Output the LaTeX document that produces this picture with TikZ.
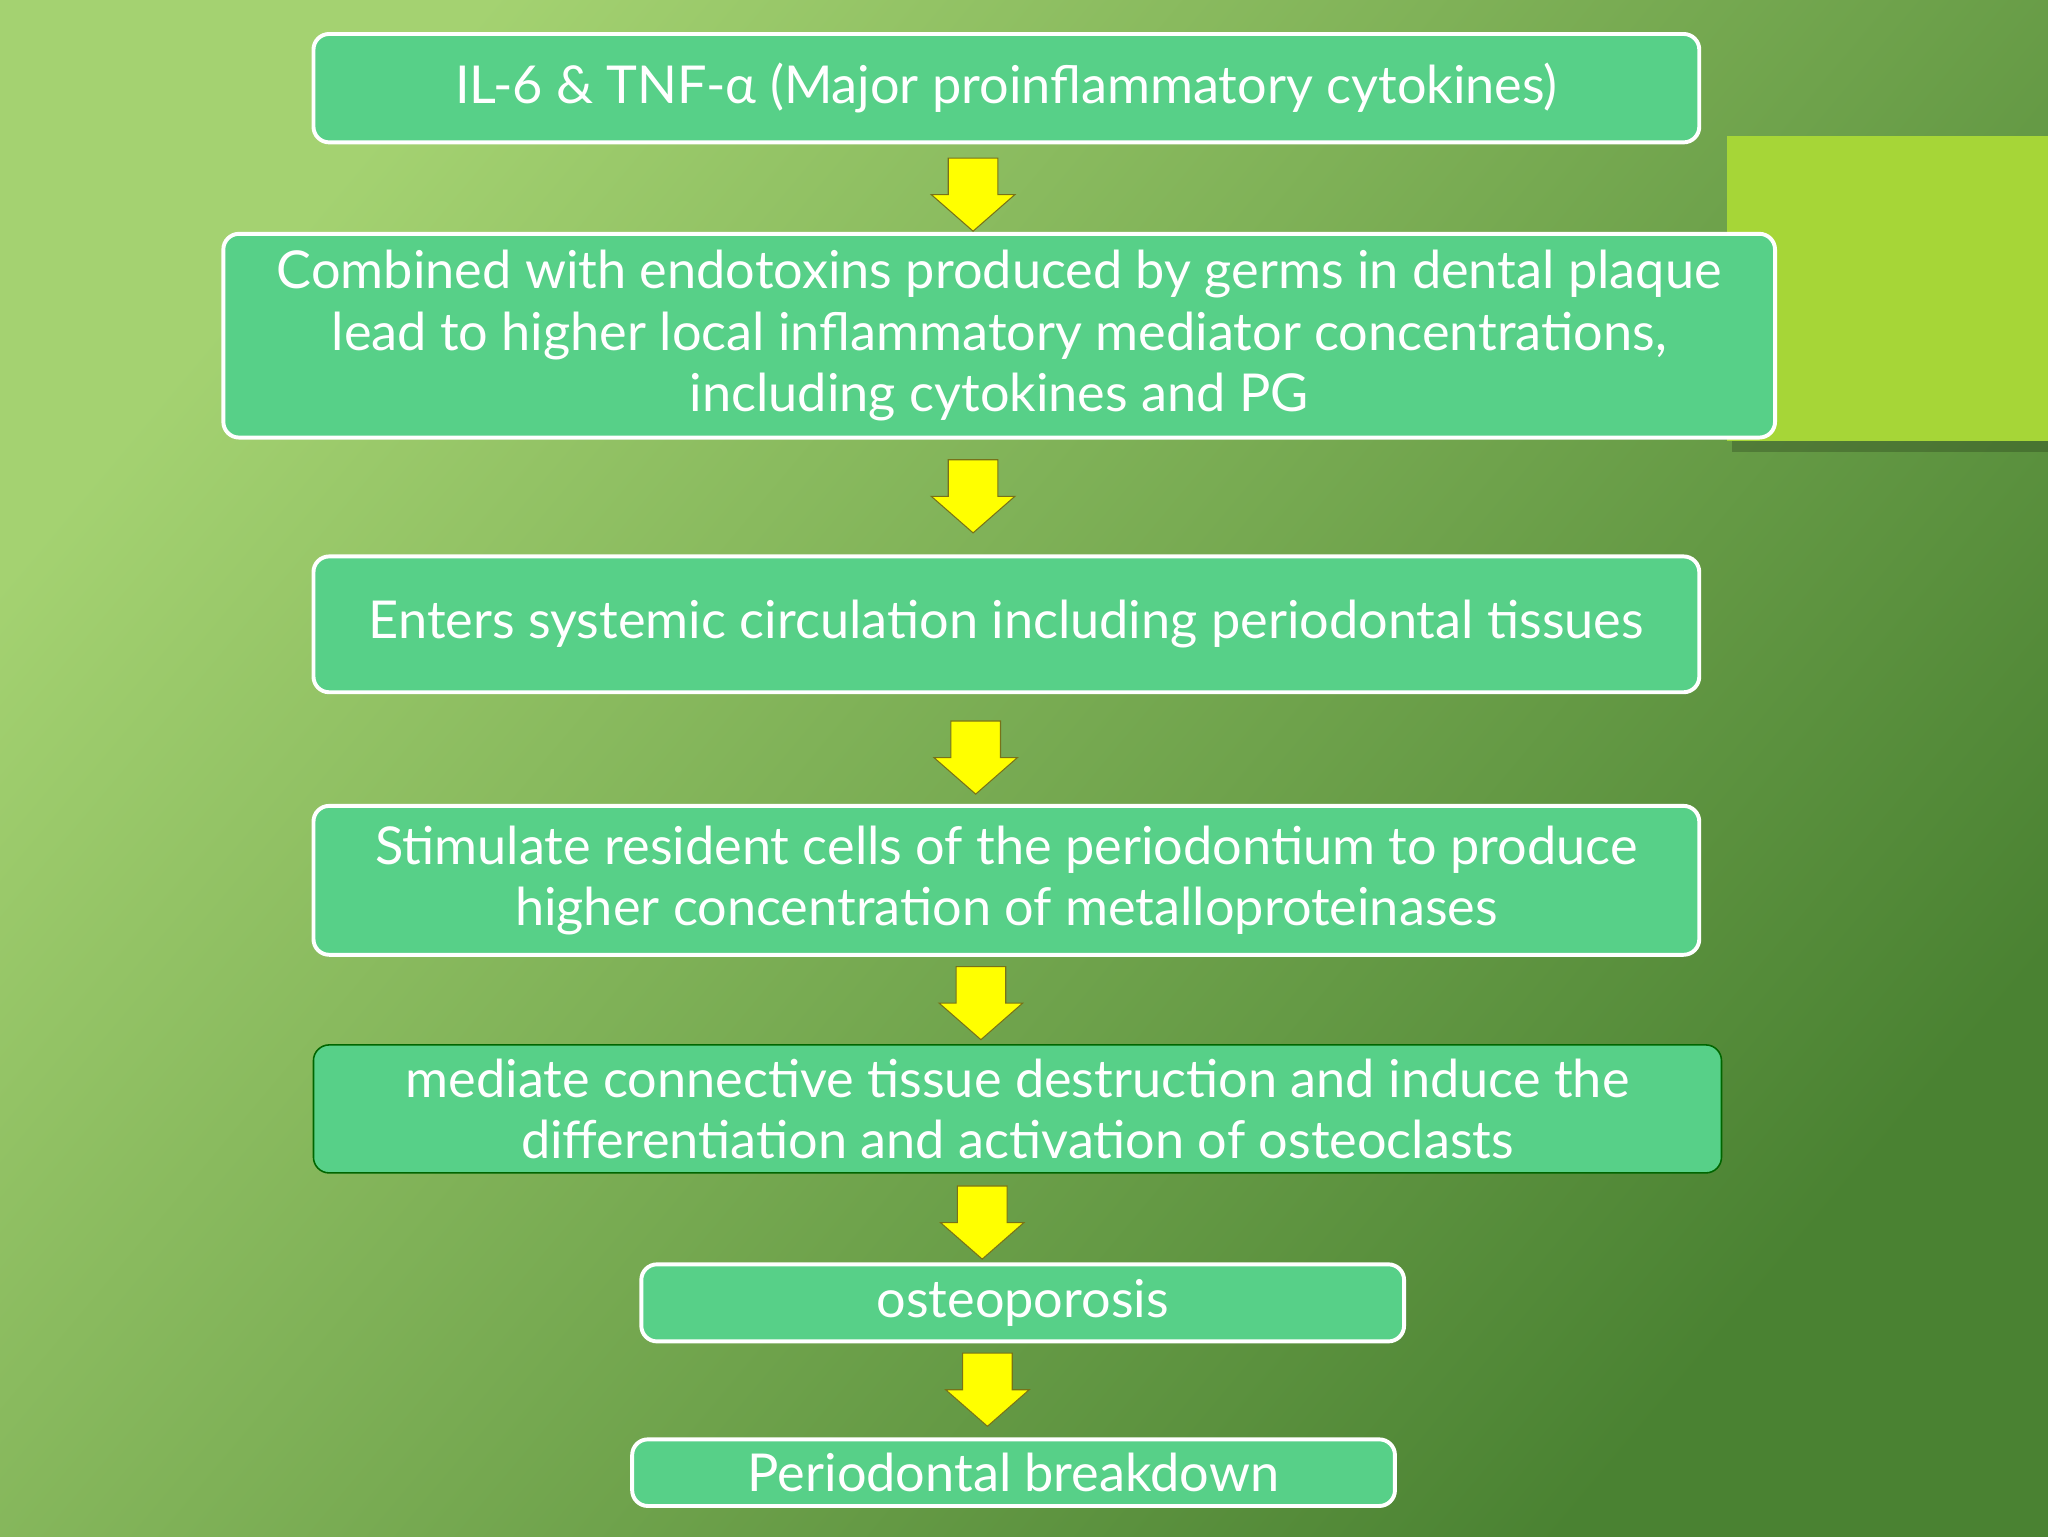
\documentclass[tikz,border=0pt]{standalone}
\usepackage{fontspec}
\setmainfont{Lato}
\definecolor{boxg}{HTML}{57D088}
\definecolor{bgl}{HTML}{A4D271}
\definecolor{bgd}{HTML}{4A8232}
\definecolor{lime}{HTML}{A6D637}
\definecolor{yel}{HTML}{FFFF00}
\tikzset{
 flowbox/.style={draw=white,line width=3pt,fill=boxg,rounded corners=12pt,text=white,align=center,font=\fontsize{40}{47}\selectfont,inner sep=0pt},
 yarrow/.style={draw=olive!80!black,line width=0.8pt,fill=yel,line join=miter}
}
\newcommand\yarr[2]{%
 \draw[yarrow] (#1-19,#2) -- (#1+19,#2) -- (#1+19,#2+28) -- (#1+32,#2+28) -- (#1,#2+56) -- (#1-32,#2+28) -- (#1-19,#2+28) -- cycle;}
\begin{document}
\begin{tikzpicture}[x=1pt,y=-1pt]
\useasboundingbox (0,0) rectangle (1568,1176);
\shade[left color=bgl,right color=bgd,shading angle=50] (0,0) rectangle (1568,1176);
\fill[black,opacity=0.2] (1326,112) rectangle (1568,346);
\fill[lime] (1322,104) rectangle (1568,338);
\node[flowbox,minimum width=1061pt,minimum height=83pt] (b1) at (770.5,67.5) {IL-6 \& TNF-α (Major proinflammatory cytokines)};
\node[flowbox,minimum width=1188pt,minimum height=156pt] (b2) at (765,257) {Combined with endotoxins produced by germs in dental plaque\\lead to higher local inflammatory mediator concentrations,\\including cytokines and PG};
\node[flowbox,minimum width=1061pt,minimum height=104pt] (b3) at (770.5,478) {Enters systemic circulation including periodontal tissues};
\node[flowbox,minimum width=1061pt,minimum height=114pt] (b4) at (770.5,674) {Stimulate resident cells of the periodontium to produce\\higher concentration of metalloproteinases};
\node[flowbox,draw=green!40!black,line width=1.2pt,minimum width=1078pt,minimum height=98pt] (b5) at (779,849) {mediate connective tissue destruction and induce the\\differentiation and activation of osteoclasts};
\node[flowbox,minimum width=584pt,minimum height=59pt] (b6) at (783,997.5) {osteoporosis};
\node[flowbox,minimum width=584pt,minimum height=51pt] (b7) at (776,1127.5) {Periodontal breakdown};
\yarr{745}{121}
\yarr{745}{352}
\yarr{747}{552}
\yarr{751}{740}
\yarr{752}{908}
\yarr{756}{1036}
\end{tikzpicture}
\end{document}
